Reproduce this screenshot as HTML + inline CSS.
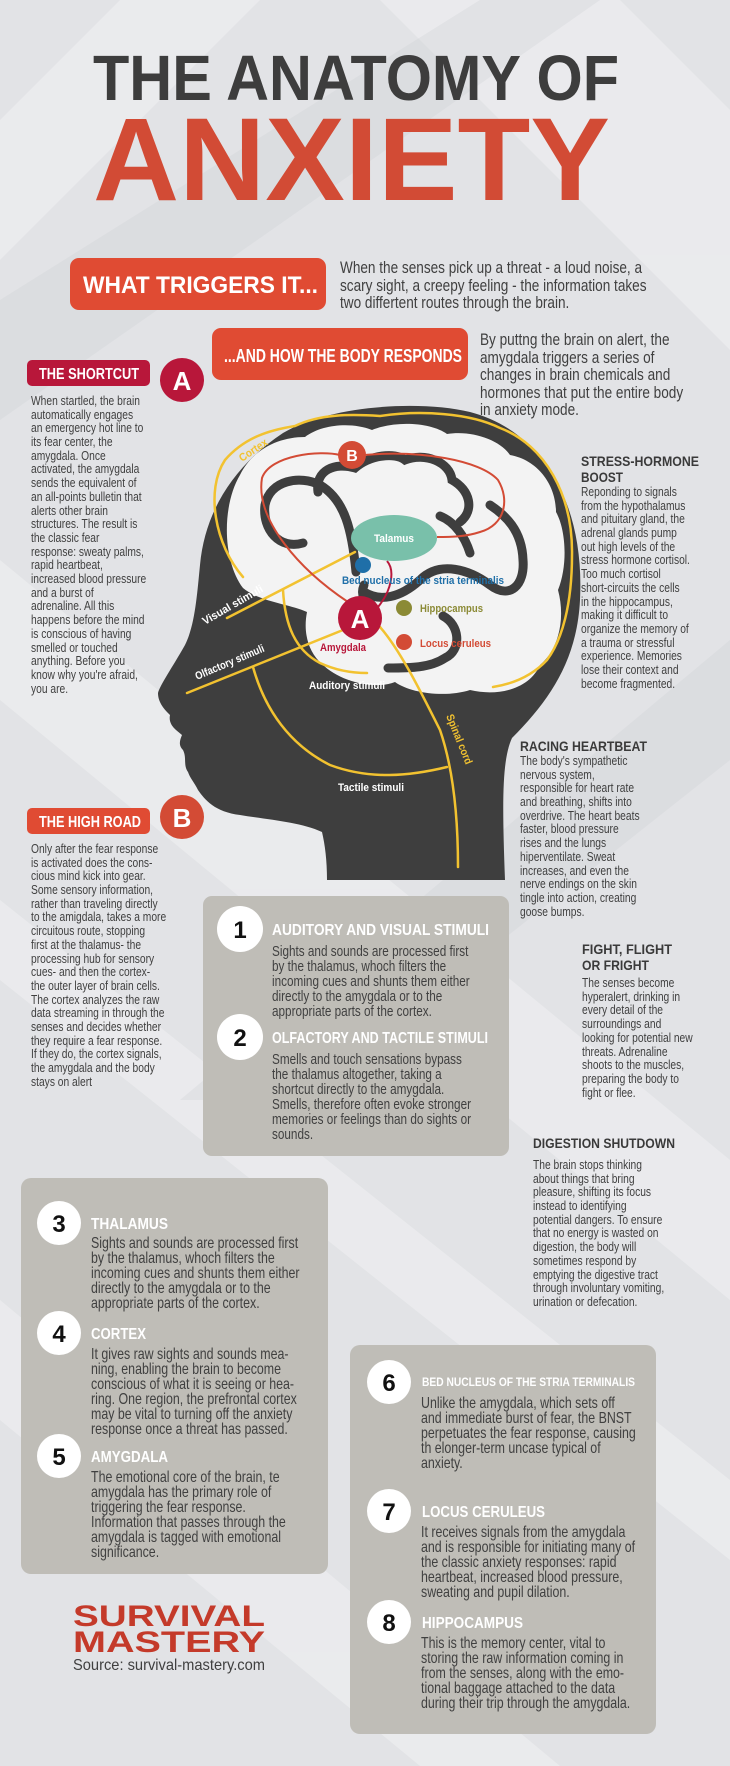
<!DOCTYPE html>
<html><head><meta charset="utf-8"><style>
html,body{margin:0;padding:0;background:#e3e4e7}
svg{display:block}
.t{font-family:"Liberation Sans",sans-serif;fill:#404040}
.b{font-family:"Liberation Sans",sans-serif;font-weight:bold}
</style></head><body>
<svg width="730" height="1766" viewBox="0 0 730 1766" xmlns="http://www.w3.org/2000/svg">
<rect width="730" height="1766" fill="#e2e3e6"/>
<g fill="#ffffff" opacity="0.28">
<polygon points="0,120 120,0 260,0 0,260"/>
<polygon points="380,0 520,0 730,210 730,350"/>
<polygon points="0,560 0,700 730,1300 730,1160"/>
<polygon points="0,1300 0,1420 420,1766 560,1766"/>
<polygon points="500,0 620,0 730,110 730,230"/>
<polygon points="0,900 0,980 730,1560 730,1480"/>
</g>
<g fill="#c9cace" opacity="0.25">
<polygon points="0,300 0,420 600,0 480,0"/>
<polygon points="730,640 730,760 300,1100 180,1100"/>
</g>

<!-- Title -->
<text class="b" x="93" y="100" font-size="64" fill="#3d3d3d" textLength="526" lengthAdjust="spacingAndGlyphs">THE ANATOMY OF</text>
<text class="b" x="93" y="200" font-size="118" fill="#d24b35" textLength="517" lengthAdjust="spacingAndGlyphs">ANXIETY</text>

<!-- Pills -->
<rect x="70" y="258" width="256" height="52" rx="9" fill="#e04b33"/>
<text class="b" x="83" y="293" font-size="24" fill="#fff" textLength="235" lengthAdjust="spacingAndGlyphs">WHAT TRIGGERS IT...</text>
<g class="t" font-size="17" transform="translate(340,0) scale(0.8,1)">
<text x="0" y="273">When the senses pick up a threat - a loud noise, a</text>
<text x="0" y="291">scary sight, a creepy feeling - the information takes</text>
<text x="0" y="308">two differtent routes through the brain.</text>
</g>
<rect x="212" y="328" width="256" height="52" rx="9" fill="#e04b33"/>
<text class="b" x="224" y="362" font-size="18" fill="#fff" textLength="238" lengthAdjust="spacingAndGlyphs">...AND HOW THE BODY RESPONDS</text>
<g class="t" font-size="17" transform="translate(480,0) scale(0.8,1)">
<text x="0" y="345">By puttng the brain on alert, the</text>
<text x="0" y="363">amygdala triggers a series of</text>
<text x="0" y="380">changes in brain chemicals and</text>
<text x="0" y="398">hormones that put the entire body</text>
<text x="0" y="415">in anxiety mode.</text>
</g>

<!-- Shortcut -->
<rect x="27" y="360" width="123" height="26" rx="5" fill="#b8173a"/>
<text class="b" x="39" y="379" font-size="16" fill="#fff" textLength="100" lengthAdjust="spacingAndGlyphs">THE SHORTCUT</text>
<circle cx="182" cy="380" r="22" fill="#b8173a"/>
<text class="b" x="182" y="390" font-size="26" fill="#fff" text-anchor="middle">A</text>
<g class="t" font-size="13" transform="translate(31,0) scale(0.79,1)">
<text x="0" y="405">When startled, the brain</text>
<text x="0" y="419">automatically engages</text>
<text x="0" y="432">an emergency hot line to</text>
<text x="0" y="446">its fear center, the</text>
<text x="0" y="460">amygdala. Once</text>
<text x="0" y="473">activated, the amygdala</text>
<text x="0" y="487">sends the equivalent of</text>
<text x="0" y="501">an all-points bulletin that</text>
<text x="0" y="515">alerts other brain</text>
<text x="0" y="528">structures. The result is</text>
<text x="0" y="542">the classic fear</text>
<text x="0" y="556">response: sweaty palms,</text>
<text x="0" y="569">rapid heartbeat,</text>
<text x="0" y="583">increased blood pressure</text>
<text x="0" y="597">and a burst of</text>
<text x="0" y="610">adrenaline. All this</text>
<text x="0" y="624">happens before the mind</text>
<text x="0" y="638">is conscious of having</text>
<text x="0" y="652">smelled or touched</text>
<text x="0" y="665">anything. Before you</text>
<text x="0" y="679">know why you're afraid,</text>
<text x="0" y="693">you are.</text>
</g>

<!-- Head -->
<path d="M283,433 C330,405 420,400 470,412 C540,430 585,500 580,600 C577,660 550,700 512,738 C502,760 502,800 505,880 L327,880 C327,860 325,845 322,832 C300,822 270,820 240,815 C215,812 205,800 198,790 C194,782 190,778 188,772 C183,765 187,758 183,750 C178,745 180,740 182,735 C176,730 168,725 170,715 C165,710 158,703 158,693 C160,685 172,668 185,645 C195,625 197,595 200,565 C205,510 235,465 283,433 Z" fill="#3e3e3e"/>
<path d="M243,588 C222,560 222,505 240,475 C252,450 278,437 305,437 C322,424 352,422 372,430 C397,420 432,423 447,434 C472,430 500,440 510,455 C538,460 556,485 556,512 C566,530 568,565 558,590 C566,620 558,650 540,665 C530,688 500,697 470,690 C445,698 410,693 395,682 C375,690 340,682 322,664 C308,652 303,632 307,612 C290,604 260,602 243,588 Z" fill="#f3f3f3"/>
<g fill="none" stroke="#3e3e3e" stroke-width="9" stroke-linecap="round">
<path d="M303,543 C280,550 262,530 265,505 C270,480 300,475 320,485 C345,500 352,530 356,572"/>
<path d="M318,492 C315,470 335,462 355,468 C370,455 395,452 405,460 C425,452 450,462 452,480 C470,490 475,510 460,522"/>
<path d="M440,516 C455,522 465,537 470,553"/>
<path d="M364,592 C380,602 400,598 420,580 C440,560 470,570 490,585 C510,600 525,585 523,560 C522,530 505,515 490,505"/>
<path d="M443,616 C460,625 462,650 445,658 C430,668 410,668 388,668"/>
<path d="M364,585 C360,595 365,603 372,605"/>
</g>
<g fill="none" stroke="#f2c230" stroke-width="2.5" stroke-linecap="round">
<path d="M243,577 C215,545 205,490 225,460 C245,437 270,430 295,426 C320,414 350,414 380,416 C420,410 470,413 500,428 C545,445 573,495 572,555 C572,605 562,640 547,660 C532,676 512,684 493,687"/>
<path d="M227,618 L355,552"/>
<path d="M187,693 L343,630"/>
<path d="M283,590 C285,625 295,650 320,663 C335,670 352,673 367,673"/>
<path d="M253,667 C265,710 290,745 330,765 C370,780 410,776 447,767"/>
<path d="M380,627 C400,650 420,690 440,730 C452,765 458,810 458,867"/>
</g>
<g fill="none" stroke-width="2">
<path d="M348,602 C300,570 255,520 262,478 C270,455 320,450 340,455" stroke="#d34b35"/>
<path d="M364,455 C420,450 480,460 498,480 C510,500 505,525 480,532 C465,537 450,537 437,537" stroke="#d34b35"/>
<path d="M378,607 C392,590 395,570 387,561" stroke="#b8173a"/>
</g>
<ellipse cx="394" cy="538" rx="43" ry="23" fill="#79c0aa"/>
<text class="b" x="394" y="542" font-size="11" fill="#fff" text-anchor="middle" textLength="40" lengthAdjust="spacingAndGlyphs">Talamus</text>
<circle cx="363" cy="565" r="8" fill="#1f6fa8"/>
<text class="b" x="342" y="584" font-size="11" fill="#1f6fa8" textLength="162" lengthAdjust="spacingAndGlyphs">Bed nucleus of the stria terminalis</text>
<circle cx="352" cy="455" r="14" fill="#d34b35"/>
<text class="b" x="352" y="461" font-size="16" fill="#fff" text-anchor="middle">B</text>
<circle cx="360" cy="618" r="22" fill="#b8173a"/>
<text class="b" x="360" y="628" font-size="26" fill="#fff" text-anchor="middle">A</text>
<text class="b" x="320" y="651" font-size="11" fill="#b8173a" textLength="46" lengthAdjust="spacingAndGlyphs">Amygdala</text>
<circle cx="404" cy="608" r="8" fill="#8b8a35"/>
<text class="b" x="420" y="612" font-size="11" fill="#8b8a35" textLength="63" lengthAdjust="spacingAndGlyphs">Hippocampus</text>
<circle cx="404" cy="642" r="8" fill="#d34b35"/>
<text class="b" x="420" y="647" font-size="11" fill="#d34b35" textLength="71" lengthAdjust="spacingAndGlyphs">Locus ceruleus</text>
<text class="b" x="309" y="689" font-size="11" fill="#fff" textLength="76" lengthAdjust="spacingAndGlyphs">Auditory stimuli</text>
<text class="b" x="338" y="791" font-size="11" fill="#fff" textLength="66" lengthAdjust="spacingAndGlyphs">Tactile stimuli</text>
<text class="b" font-size="11" fill="#fff" transform="translate(205,625) rotate(-30)" textLength="68" lengthAdjust="spacingAndGlyphs">Visual stimuli</text>
<text class="b" font-size="11" fill="#fff" transform="translate(197,680) rotate(-23)" textLength="74" lengthAdjust="spacingAndGlyphs">Olfactory stimuli</text>
<text class="b" font-size="11" fill="#f2c230" transform="translate(242,462) rotate(-34)" textLength="32" lengthAdjust="spacingAndGlyphs">Cortex</text>
<text class="b" font-size="11" fill="#f2c230" transform="translate(446,716) rotate(68)" textLength="53" lengthAdjust="spacingAndGlyphs">Spinal cord</text>

<!-- High road -->
<rect x="27" y="808" width="123" height="26" rx="5" fill="#e04b33"/>
<text class="b" x="39" y="827" font-size="16" fill="#fff" textLength="102" lengthAdjust="spacingAndGlyphs">THE HIGH ROAD</text>
<circle cx="182" cy="817" r="22" fill="#d34b35"/>
<text class="b" x="182" y="827" font-size="26" fill="#fff" text-anchor="middle">B</text>
<g class="t" font-size="13" transform="translate(31,0) scale(0.79,1)">
<text x="0" y="853">Only after the fear response</text>
<text x="0" y="867">is activated does the cons-</text>
<text x="0" y="880">cious mind kick into gear.</text>
<text x="0" y="894">Some sensory information,</text>
<text x="0" y="908">rather than traveling directly</text>
<text x="0" y="921">to the amigdala, takes a more</text>
<text x="0" y="935">circuitous route, stopping</text>
<text x="0" y="949">first at the thalamus- the</text>
<text x="0" y="963">processing hub  for sensory</text>
<text x="0" y="976">cues- and then the cortex-</text>
<text x="0" y="990">the outer layer of brain cells.</text>
<text x="0" y="1004">The cortex  analyzes the raw</text>
<text x="0" y="1017">data streaming in through the</text>
<text x="0" y="1031">senses and decides whether</text>
<text x="0" y="1045">they require a fear response.</text>
<text x="0" y="1058">If they do, the cortex signals,</text>
<text x="0" y="1072">the amygdala and the body</text>
<text x="0" y="1086">stays on alert</text>
</g>

<!-- Right column -->
<text class="b" x="581" y="466" font-size="14" fill="#3a3a3a" textLength="118" lengthAdjust="spacingAndGlyphs">STRESS-HORMONE</text>
<text class="b" x="581" y="482" font-size="14" fill="#3a3a3a" textLength="42" lengthAdjust="spacingAndGlyphs">BOOST</text>
<g class="t" font-size="13" transform="translate(581,0) scale(0.79,1)">
<text x="0" y="496">Reponding to signals</text>
<text x="0" y="510">from the hypothalamus</text>
<text x="0" y="523">and pituitary gland, the</text>
<text x="0" y="537">adrenal glands pump</text>
<text x="0" y="551">out high levels of the</text>
<text x="0" y="564">stress hormone cortisol.</text>
<text x="0" y="578">Too much cortisol</text>
<text x="0" y="592">short-circuits the cells</text>
<text x="0" y="606">in the hippocampus,</text>
<text x="0" y="619">making it difficult to</text>
<text x="0" y="633">organize the memory of</text>
<text x="0" y="647">a trauma or stressful</text>
<text x="0" y="660">experience. Memories</text>
<text x="0" y="674">lose their context and</text>
<text x="0" y="688">become fragmented.</text>
</g>
<text class="b" x="520" y="751" font-size="14" fill="#3a3a3a" textLength="127" lengthAdjust="spacingAndGlyphs">RACING HEARTBEAT</text>
<g class="t" font-size="13" transform="translate(520,0) scale(0.79,1)">
<text x="0" y="765">The body's sympathetic</text>
<text x="0" y="779">nervous system,</text>
<text x="0" y="792">responsible for heart rate</text>
<text x="0" y="806">and breathing, shifts into</text>
<text x="0" y="820">overdrive. The heart beats</text>
<text x="0" y="833">faster, blood pressure</text>
<text x="0" y="847">rises and the lungs</text>
<text x="0" y="861">hiperventilate. Sweat</text>
<text x="0" y="875">increases, and even the</text>
<text x="0" y="888">nerve endings on the skin</text>
<text x="0" y="902">tingle into action, creating</text>
<text x="0" y="916">goose bumps.</text>
</g>
<text class="b" x="582" y="954" font-size="14" fill="#3a3a3a" textLength="90" lengthAdjust="spacingAndGlyphs">FIGHT, FLIGHT</text>
<text class="b" x="582" y="970" font-size="14" fill="#3a3a3a" textLength="67" lengthAdjust="spacingAndGlyphs">OR FRIGHT</text>
<g class="t" font-size="13" transform="translate(582,0) scale(0.79,1)">
<text x="0" y="987">The senses become</text>
<text x="0" y="1001">hyperalert, drinking in</text>
<text x="0" y="1014">every detail of the</text>
<text x="0" y="1028">surroundings and</text>
<text x="0" y="1042">looking for potential new</text>
<text x="0" y="1056">threats. Adrenaline</text>
<text x="0" y="1069">shoots to the muscles,</text>
<text x="0" y="1083">preparing the body to</text>
<text x="0" y="1097">fight or flee.</text>
</g>
<text class="b" x="533" y="1148" font-size="14" fill="#3a3a3a" textLength="142" lengthAdjust="spacingAndGlyphs">DIGESTION SHUTDOWN</text>
<g class="t" font-size="13" transform="translate(533,0) scale(0.79,1)">
<text x="0" y="1169">The brain stops thinking</text>
<text x="0" y="1183">about things that bring</text>
<text x="0" y="1196">pleasure, shifting its focus</text>
<text x="0" y="1210">instead to identifying</text>
<text x="0" y="1224">potential dangers. To ensure</text>
<text x="0" y="1237">that no energy is wasted on</text>
<text x="0" y="1251">digestion, the body will</text>
<text x="0" y="1265">sometimes respond by</text>
<text x="0" y="1279">emptying the digestive tract</text>
<text x="0" y="1292">through involuntary vomiting,</text>
<text x="0" y="1306">urination or defecation.</text>
</g>

<!-- Box 1-2 -->
<rect x="203" y="896" width="306" height="260" rx="9" fill="#bfbdb7"/>
<circle cx="240" cy="929" r="23" fill="#fff"/>
<text class="b" x="240" y="938" font-size="24" fill="#111" text-anchor="middle">1</text>
<text class="b" x="272" y="935" font-size="16" fill="#fff" textLength="217" lengthAdjust="spacingAndGlyphs">AUDITORY AND VISUAL STIMULI</text>
<g class="t" font-size="14.5" transform="translate(272,0) scale(0.81,1)">
<text x="0" y="956">Sights and sounds are processed first</text>
<text x="0" y="971">by the thalamus, whoch filters the</text>
<text x="0" y="986">incoming cues and shunts them either</text>
<text x="0" y="1001">directly to the amygdala or to the</text>
<text x="0" y="1016">appropriate parts of the cortex.</text>
</g>
<circle cx="240" cy="1037" r="23" fill="#fff"/>
<text class="b" x="240" y="1046" font-size="24" fill="#111" text-anchor="middle">2</text>
<text class="b" x="272" y="1043" font-size="16" fill="#fff" textLength="216" lengthAdjust="spacingAndGlyphs">OLFACTORY AND TACTILE STIMULI</text>
<g class="t" font-size="14.5" transform="translate(272,0) scale(0.81,1)">
<text x="0" y="1064">Smells and touch sensations bypass</text>
<text x="0" y="1079">the thalamus altogether, taking a</text>
<text x="0" y="1094">shortcut directly to the amygdala.</text>
<text x="0" y="1109">Smells, therefore often evoke stronger</text>
<text x="0" y="1124">memories or feelings than do sights or</text>
<text x="0" y="1139">sounds.</text>
</g>

<!-- Box 3-5 -->
<rect x="21" y="1178" width="307" height="396" rx="10" fill="#bfbdb7"/>
<circle cx="59" cy="1223" r="22" fill="#fff"/>
<text class="b" x="59" y="1232" font-size="24" fill="#111" text-anchor="middle">3</text>
<text class="b" x="91" y="1229" font-size="16" fill="#fff" textLength="77" lengthAdjust="spacingAndGlyphs">THALAMUS</text>
<g class="t" font-size="15.5" transform="translate(91,0) scale(0.8,1)">
<text x="0" y="1248">Sights and sounds are processed first</text>
<text x="0" y="1263">by the thalamus, whoch filters the</text>
<text x="0" y="1278">incoming cues and shunts them either</text>
<text x="0" y="1293">directly to the amygdala or to the</text>
<text x="0" y="1308">appropriate parts of the cortex.</text>
</g>
<circle cx="59" cy="1333" r="22" fill="#fff"/>
<text class="b" x="59" y="1342" font-size="24" fill="#111" text-anchor="middle">4</text>
<text class="b" x="91" y="1339" font-size="16" fill="#fff" textLength="55" lengthAdjust="spacingAndGlyphs">CORTEX</text>
<g class="t" font-size="15.5" transform="translate(91,0) scale(0.8,1)">
<text x="0" y="1359">It gives raw sights and sounds mea-</text>
<text x="0" y="1374">ning, enabling the brain to become</text>
<text x="0" y="1389">conscious of what it is seeing or hea-</text>
<text x="0" y="1404">ring. One region, the prefrontal cortex</text>
<text x="0" y="1419">may be vital to turning off the anxiety</text>
<text x="0" y="1434">response once a threat has passed.</text>
</g>
<circle cx="59" cy="1456" r="22" fill="#fff"/>
<text class="b" x="59" y="1465" font-size="24" fill="#111" text-anchor="middle">5</text>
<text class="b" x="91" y="1462" font-size="16" fill="#fff" textLength="77" lengthAdjust="spacingAndGlyphs">AMYGDALA</text>
<g class="t" font-size="15.5" transform="translate(91,0) scale(0.8,1)">
<text x="0" y="1482">The emotional core of the brain, te</text>
<text x="0" y="1497">amygdala has the primary role of</text>
<text x="0" y="1512">triggering the fear response.</text>
<text x="0" y="1527">Information that passes through the</text>
<text x="0" y="1542">amygdala is tagged with emotional</text>
<text x="0" y="1557">significance.</text>
</g>

<!-- Box 6-8 -->
<rect x="350" y="1345" width="306" height="389" rx="10" fill="#bfbdb7"/>
<circle cx="389" cy="1382" r="22" fill="#fff"/>
<text class="b" x="389" y="1391" font-size="24" fill="#111" text-anchor="middle">6</text>
<text class="b" x="422" y="1386" font-size="12" fill="#fff" textLength="213" lengthAdjust="spacingAndGlyphs">BED NUCLEUS OF THE STRIA TERMINALIS</text>
<g class="t" font-size="15.5" transform="translate(421,0) scale(0.8,1)">
<text x="0" y="1408">Unlike the amygdala, which sets off</text>
<text x="0" y="1423">and immediate burst of fear, the BNST</text>
<text x="0" y="1438">perpetuates the fear response, causing</text>
<text x="0" y="1453">th elonger-term uncase typical of</text>
<text x="0" y="1468">anxiety.</text>
</g>
<circle cx="389" cy="1511" r="22" fill="#fff"/>
<text class="b" x="389" y="1520" font-size="24" fill="#111" text-anchor="middle">7</text>
<text class="b" x="422" y="1517" font-size="16" fill="#fff" textLength="123" lengthAdjust="spacingAndGlyphs">LOCUS CERULEUS</text>
<g class="t" font-size="15.5" transform="translate(421,0) scale(0.8,1)">
<text x="0" y="1537">It receives signals from the amygdala</text>
<text x="0" y="1552">and is responsible for initiating many of</text>
<text x="0" y="1567">the classic anxiety responses: rapid</text>
<text x="0" y="1582">heartbeat, increased blood pressure,</text>
<text x="0" y="1597">sweating and pupil dilation.</text>
</g>
<circle cx="389" cy="1622" r="22" fill="#fff"/>
<text class="b" x="389" y="1631" font-size="24" fill="#111" text-anchor="middle">8</text>
<text class="b" x="422" y="1628" font-size="16" fill="#fff" textLength="101" lengthAdjust="spacingAndGlyphs">HIPPOCAMPUS</text>
<g class="t" font-size="15.5" transform="translate(421,0) scale(0.8,1)">
<text x="0" y="1648">This is the memory center, vital to</text>
<text x="0" y="1663">storing the raw information coming in</text>
<text x="0" y="1678">from the senses, along with the emo-</text>
<text x="0" y="1693">tional baggage attached to the data</text>
<text x="0" y="1708">during their trip through the amygdala.</text>
</g>

<!-- Logo -->
<text class="b" x="73" y="1626" font-size="30" fill="#c43a2a" textLength="192" lengthAdjust="spacingAndGlyphs">SURVIVAL</text>
<text class="b" x="73" y="1652" font-size="30" fill="#c43a2a" textLength="192" lengthAdjust="spacingAndGlyphs">MASTERY</text>
<text class="t" x="73" y="1670" font-size="16" fill="#555" textLength="192" lengthAdjust="spacingAndGlyphs">Source: survival-mastery.com</text>
</svg>
</body></html>
